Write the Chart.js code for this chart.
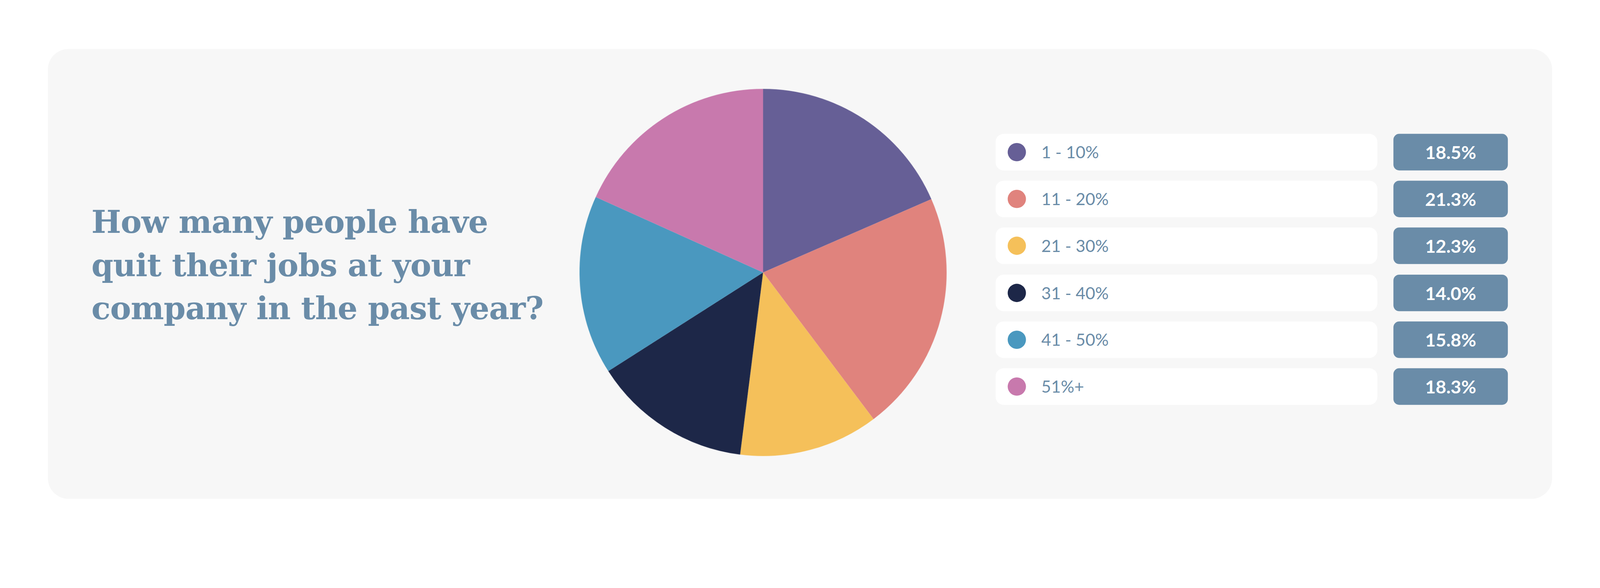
<!DOCTYPE html>
<html lang="en">
  <head>
    <meta charset="UTF-8" />
    <title>Quit jobs</title>
    <script src="https://cdn.jsdelivr.net/npm/chart.js"></script>
    <style>
      html, body { margin: 0; padding: 0; overflow: hidden; background: #ffffff; }
      #stage { position: absolute; left: 0; top: 0; width: 4376px; height: 1505px; transform-origin: 0 0; font-family: 'Lato', sans-serif; }
      .card { position: absolute; left: 131px; top: 134px; width: 4114px; height: 1230px; background: #f7f7f7; border-radius: 56px; }
      .title { position: absolute; left: 250px; top: 548px; font-family: 'DejaVu Serif', serif; font-weight: bold; font-size: 86px; line-height: 118px; color: #6a8ca8; letter-spacing: -1px; }
      .pie { position: absolute; left: 1577px; top: 235px; width: 1020px; height: 1020px; }
      .row { position: absolute; left: 2723px; width: 1044px; height: 100px; background: #ffffff; border-radius: 22px; }
      .dot { position: absolute; left: 33px; top: 25px; width: 50px; height: 50px; border-radius: 50%; }
      .lab { position: absolute; left: 125px; top: 0; line-height: 100px; font-size: 46px; color: #6a8ca8; }
      .val { position: absolute; left: 3811px; width: 313px; height: 100px; background: #6a8ca8; border-radius: 16px; color: #fff; font-weight: bold; font-size: 50px; line-height: 100px; text-align: center; }
    </style>
  </head>
  <body>
    <div id="stage">
      <div class="card"></div>
      <div class="title">How many people have<br />quit their jobs at your<br />company in the past year?</div>
      <canvas class="pie" id="pie" width="1020" height="1020"></canvas>
      <div id="legend"></div>
    </div>

    <script>
      const categories = ['1 - 10%', '11 - 20%', '21 - 30%', '31 - 40%', '41 - 50%', '51%+'];
      const values = [18.5, 21.3, 12.3, 14.0, 15.8, 18.3];
      const colors = ['#665f96', '#e0837d', '#f5c05a', '#1d2748', '#4a98bf', '#c879ad'];

      // fit the 4376px design to whatever the viewport is
      document.getElementById('stage').style.transform = 'scale(' + (window.innerWidth / 4376) + ')';

      const legend = document.getElementById('legend');
      categories.forEach((c, i) => {
        const top = 366 + i * 128.2;
        legend.innerHTML +=
          '<div class="row" style="top:' + top + 'px"><div class="dot" style="background:' + colors[i] +
          '"></div><div class="lab">' + c + '</div></div>' +
          '<div class="val" style="top:' + top + 'px">' + values[i].toFixed(1) + '%</div>';
      });

      new Chart(document.getElementById('pie'), {
        type: 'pie',
        data: {
          labels: categories,
          datasets: [{ data: values, backgroundColor: colors, borderWidth: 0 }]
        },
        options: {
          responsive: false,
          devicePixelRatio: 1,
          animation: false,
          layout: { padding: 8 },
          plugins: { legend: { display: false }, tooltip: { enabled: false } }
        }
      });
    </script>
  </body>
</html>
